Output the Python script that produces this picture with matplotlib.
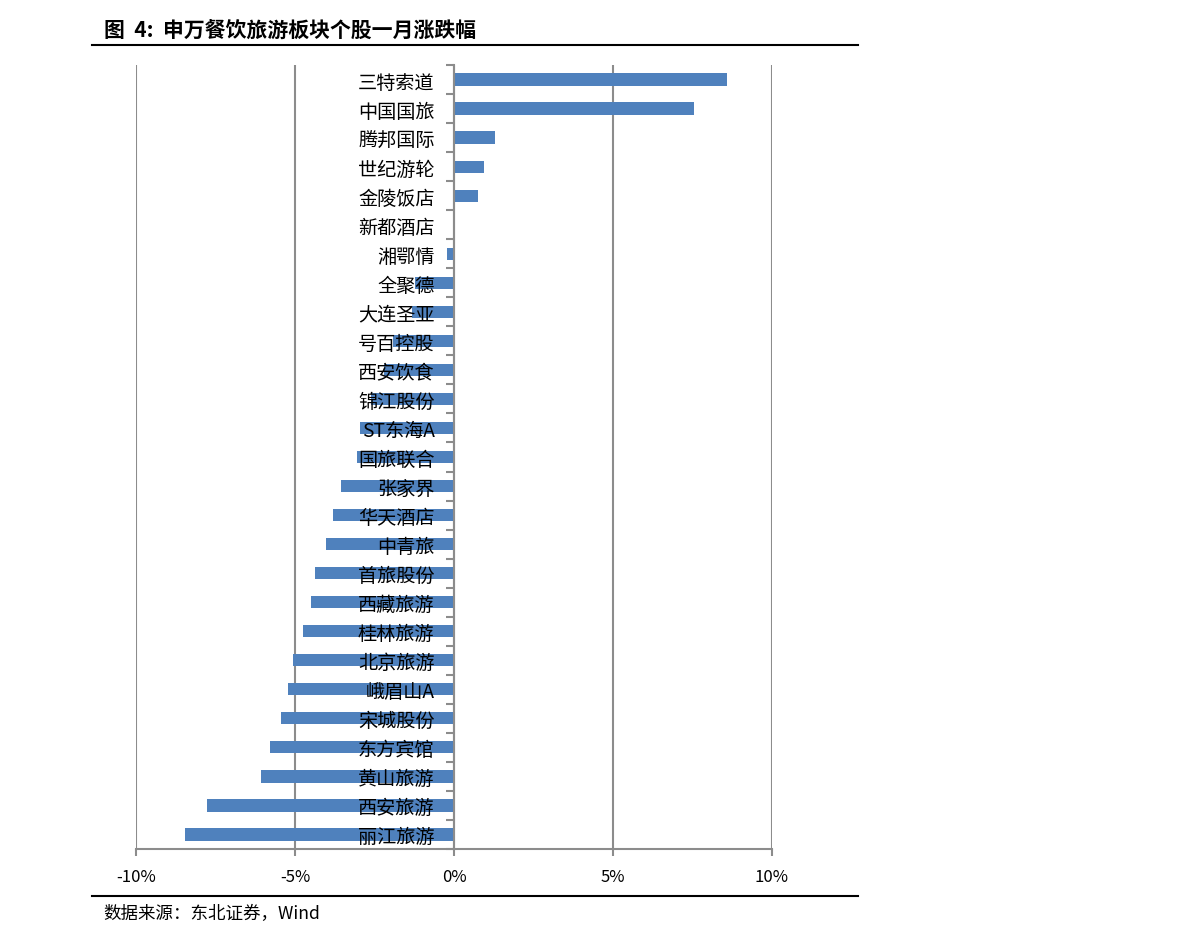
import numpy as np
import matplotlib
matplotlib.use("Agg")
import matplotlib.pyplot as plt
from matplotlib.ticker import FuncFormatter

plt.rcParams['font.family'] = ['Noto Sans CJK SC', 'DejaVu Sans']

# stocks, top to bottom
names = ["三特索道", "中国国旅", "腾邦国际", "世纪游轮", "金陵饭店", "新都酒店",
         "湘鄂情", "全聚德", "大连圣亚", "号百控股", "西安饮食", "锦江股份",
         "ST东海A", "国旅联合", "张家界", "华天酒店", "中青旅", "首旅股份",
         "西藏旅游", "桂林旅游", "北京旅游", "峨眉山A", "宋城股份", "东方宾馆",
         "黄山旅游", "西安旅游", "丽江旅游"]
# monthly change, %
changes = [8.58, 7.55, 1.28, 0.95, 0.76, 0.0,
           -0.22, -1.23, -1.32, -1.92, -2.2, -2.6,
           -2.96, -3.05, -3.56, -3.81, -4.03, -4.37,
           -4.50, -4.75, -5.07, -5.22, -5.44, -5.79,
           -6.07, -7.77, -8.46]
x_ticks = [-10, -5, 0, 5, 10]

title = "图  4:  申万餐饮旅游板块个股一月涨跌幅"
source = "数据来源：东北证券，Wind"

bar_color = "#4F81BD"
grid_color = "#8C8C8C"

fig = plt.figure(figsize=(11.91, 9.45), dpi=100)
ax = fig.add_axes([136 / 1191, 1 - 850 / 945, 636 / 1191, 784 / 945])

pos = np.arange(len(names))
# gridlines under the bars, category labels above them
for t in x_ticks:
    ax.axvline(t, color=grid_color, linewidth=1.5, zorder=0)
ax.barh(pos, changes, height=0.42, color=bar_color, zorder=1)

ax.set_xlim(-10, 10)
ax.set_ylim(len(names) - 0.5, -0.5)

ax.set_xticks(x_ticks)
ax.xaxis.set_major_formatter(FuncFormatter(lambda v, p: f"{v:.0f}%"))
ax.tick_params(axis='x', length=5, width=1.5, color=grid_color, pad=9,
               labelsize=12, direction='out')

ax.set_yticks(pos)
ax.set_yticklabels(names)
ax.set_yticks(np.arange(-0.5, len(names), 1), minor=True)
ax.tick_params(axis='y', which='major', length=0, pad=14, labelsize=13.8)
ax.tick_params(axis='y', which='minor', length=5.5, width=1.5, color=grid_color,
               direction='out')

ax.spines['left'].set_position(('data', 0))
ax.spines['left'].set_color(grid_color)
ax.spines['left'].set_linewidth(1.5)
ax.spines['bottom'].set_color(grid_color)
ax.spines['bottom'].set_linewidth(1.5)
ax.spines['top'].set_visible(False)
ax.spines['right'].set_visible(False)

# header and footer
fig.text(104 / 1191, 1 - 31 / 945, title, fontsize=15, fontweight='bold',
         va='center', ha='left')
fig.add_artist(plt.Line2D([92 / 1191, 858 / 1191], [1 - 46 / 945, 1 - 46 / 945],
                          color='black', linewidth=1.5))
fig.add_artist(plt.Line2D([92 / 1191, 858 / 1191], [1 - 897 / 945, 1 - 897 / 945],
                          color='black', linewidth=1.5))
fig.text(103 / 1191, 1 - 914 / 945, source, fontsize=12.6, va='center', ha='left')

fig.savefig("out.png", dpi=100)
